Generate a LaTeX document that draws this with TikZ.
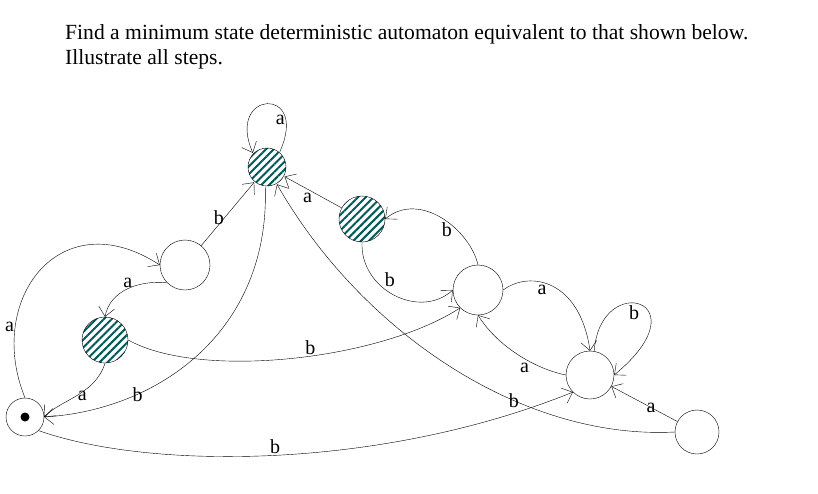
\documentclass[tikz,border=0pt]{standalone}
\usepackage{fontspec}
\setmainfont{Liberation Serif}
\usetikzlibrary{arrows.meta,patterns.meta}

\begin{document}
\begin{tikzpicture}[x=1pt,y=-1pt,
    state/.style={circle, draw, fill=white},
    final/.style={state, pattern={Lines[angle=45,distance=5.5pt,line width=2pt]}, pattern color=teal!70!black},
    trans/.style={draw, -{Straight Barb[length=9pt,width=16pt]}, thin},
    lbl/.style={font=\fontsize{20}{20}\selectfont, inner sep=1pt}
]
\useasboundingbox (0,0) rectangle (818,493);

% Title
\node[anchor=north west, align=left, font=\fontsize{21.6}{25}\selectfont, inner sep=0pt] (title) at (65,24)
  {Find a minimum state deterministic automaton equivalent to that shown below.\\Illustrate all steps.};

% States
\node[state, minimum size=38pt] (s) at (25,417) {};
\fill (s) circle (4.5pt);
\node[final, minimum size=38pt] (fa) at (267,167) {};
\node[final, minimum size=46pt] (fb) at (362,219) {};
\node[state, minimum size=50pt] (c) at (185,265) {};
\node[final, minimum size=46pt] (fd) at (105,340) {};
\node[state, minimum size=50pt] (e) at (478,290) {};
\node[state, minimum size=48pt] (f) at (590,375) {};
\node[state, minimum size=44pt] (g) at (697,432) {};

% Transitions
\draw[trans] (fa.50) .. controls (310,85) and (225,90) .. node[lbl, pos=0.2, left] {a} (fa.135);
\draw[trans] (c) -- node[lbl, pos=0.45, left] {b} (fa);
\draw[trans] (fb) -- node[lbl, pos=0.5, below left] {a} (fa);
\draw[trans] (g.west) .. controls (520,440) and (360,330) .. node[lbl, pos=0.35] {b} (fa.300);
\draw[trans] (fa.265) .. controls (270,330) and (160,410) .. node[lbl, pos=0.72] {b} (s.east);
\draw[trans] (e.north) .. controls (470,230) and (420,190) .. node[lbl, pos=0.45, below] {b} (fb.east);
\draw[trans] (fb.south) .. controls (360,290) and (420,320) .. node[lbl, pos=0.4, above right] {b} (e.west);
\draw[trans] (e.east) .. controls (530,270) and (580,280) .. node[lbl, pos=0.45, below left] {a} (f.north);
\draw[trans] (f.west) .. controls (540,370) and (500,350) .. node[lbl, pos=0.4, below left] {a} (e.south);
\draw[trans] (f.80) .. controls (600,270) and (705,300) .. node[lbl, pos=0.5, below left] {b} (f.east);
\draw[trans] (g) -- node[lbl, pos=0.4] {a} (f);
\draw[trans] (fd.east) .. controls (200,380) and (380,360) .. node[lbl, pos=0.55, above] {b} (e.south west);
\draw[trans] (s.south east) .. controls (150,470) and (380,470) .. node[lbl, pos=0.5, above] {b} (f.south west);
\draw[trans] (s.north) .. controls (-15,300) and (60,200) .. node[lbl, pos=0.25, left] {a} (c.west);
\draw[trans] (c.south west) .. controls (140,280) and (110,290) .. node[lbl, pos=0.5, above] {a} (fd.north);
\draw[trans] (fd.south) .. controls (95,395) and (60,400) .. node[lbl, pos=0.5, right] {a} (s.east);
\end{tikzpicture}
\end{document}
